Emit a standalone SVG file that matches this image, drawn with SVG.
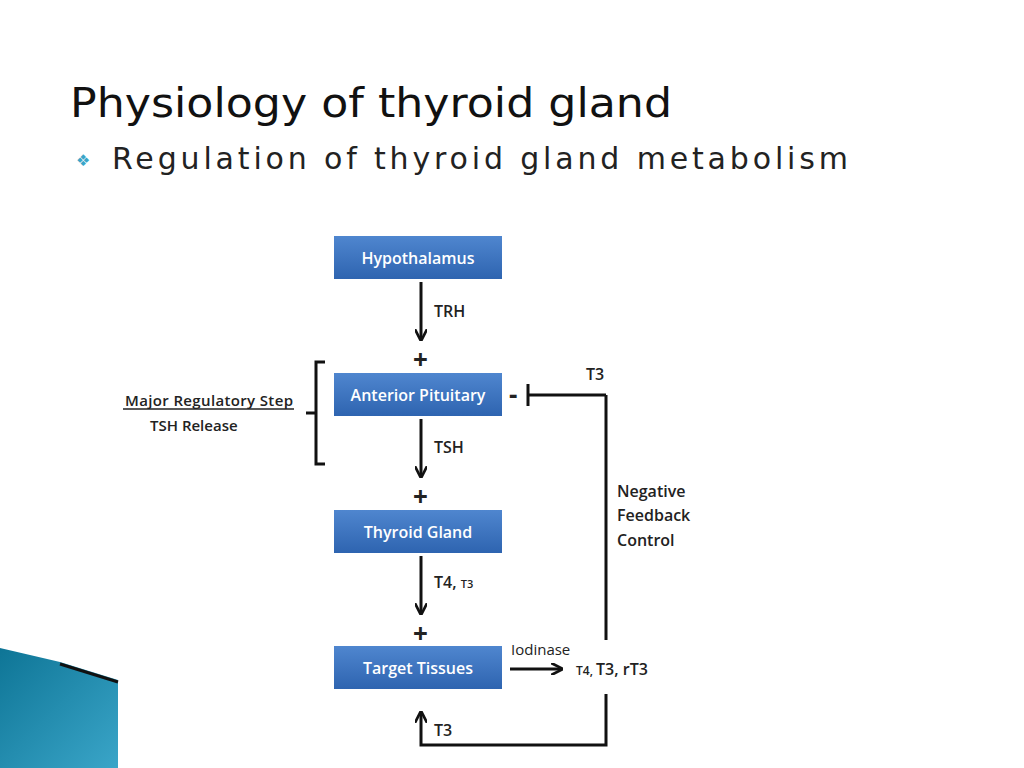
<svg xmlns="http://www.w3.org/2000/svg" width="1024" height="768" viewBox="0 0 1024 768">
<defs>
<linearGradient id="bx" x1="0" y1="0" x2="0" y2="1"><stop offset="0" stop-color="#4f86cf"/><stop offset="1" stop-color="#2e64b0"/></linearGradient>
<linearGradient id="corner" x1="0" y1="0" x2="1" y2="1"><stop offset="0" stop-color="#0e7596"/><stop offset="1" stop-color="#3aa5c8"/></linearGradient>
<marker id="ah" viewBox="0 0 10 10" refX="9" refY="5" markerWidth="4" markerHeight="4" orient="auto"><path d="M0,0 L10,5 L0,10" fill="none" stroke="#111" stroke-width="2.2"/></marker>
</defs>
<style>
.box{fill:url(#bx)}
.bt{font-family:"Open Sans","Liberation Sans",sans-serif;font-size:16px;fill:#fff;font-weight:600;text-anchor:middle}
.lb{font-family:"Open Sans","Liberation Sans",sans-serif;font-size:16px;fill:#222;font-weight:600}
.big{font-size:26px;font-weight:700}
.ln{stroke:#111;stroke-width:3;fill:none}
</style>
<rect width="1024" height="768" fill="#fff"/>
<path d="M0,648 L60,662 L118,680 L118,768 L0,768 Z" fill="url(#corner)"/>
<path d="M60,664 L118,682" stroke="#111" stroke-width="3"/>
<text x="70" y="117" font-family="DejaVu Sans, sans-serif" font-size="40" fill="#111" textLength="602" lengthAdjust="spacingAndGlyphs">Physiology of thyroid gland</text>
<text x="76" y="166" font-family="DejaVu Sans, sans-serif" font-size="16" fill="#3aa5c8">❖</text>
<text x="112" y="169" font-family="DejaVu Sans, sans-serif" font-size="30" fill="#222" textLength="736">Regulation of thyroid gland metabolism</text>
<g id="hypothalamus"><rect class="box" x="334" y="236" width="168" height="43"/><text class="bt" x="418" y="264">Hypothalamus</text></g>
<g id="pituitary"><rect class="box" x="334" y="373" width="168" height="43"/><text class="bt" x="418" y="401">Anterior Pituitary</text></g>
<g id="thyroid"><rect class="box" x="334" y="510" width="168" height="43"/><text class="bt" x="418" y="538">Thyroid Gland</text></g>
<g id="target"><rect class="box" x="334" y="646" width="168" height="43"/><text class="bt" x="418" y="674">Target Tissues</text></g>
<g id="connectors">
<path class="ln" d="M421,282 V340" marker-end="url(#ah)"/>
<path class="ln" d="M421,419 V477" marker-end="url(#ah)"/>
<path class="ln" d="M421,556 V614" marker-end="url(#ah)"/>
<path class="ln" d="M510,669 H562" marker-end="url(#ah)"/>
<path class="ln" d="M606,395 V640 M606,694 V745 H421 V712" marker-end="url(#ah)"/>
<path class="ln" d="M606,395 H528 M528,384 V406"/>
<path class="ln" d="M325,362 H316 V464 H325 M316,413 H306"/>
<path d="M123,409 H294" stroke="#222" stroke-width="1.5"/>
</g>
<text class="lb" x="434" y="317">TRH</text>
<text class="lb" x="434" y="453">TSH</text>
<text class="lb" x="434" y="588">T4, <tspan style="font-size:11px">T3</tspan></text>
<text class="lb" x="434" y="736">T3</text>
<text class="lb big" x="413" y="369">+</text>
<text class="lb big" x="413" y="506">+</text>
<text class="lb big" x="413" y="643">+</text>
<text class="lb big" x="509" y="404">-</text>
<text class="lb" x="586" y="380">T3</text>
<text class="lb" x="617" y="497">Negative</text>
<text class="lb" x="617" y="521">Feedback</text>
<text class="lb" x="617" y="546">Control</text>
<text class="lb" x="511" y="655" style="font-weight:400;font-size:15px">Iodinase</text>
<text class="lb" x="576" y="675"><tspan style="font-size:12px">T4, </tspan>T3, rT3</text>
<text class="lb" x="125" y="406" style="font-size:15px" textLength="168">Major Regulatory Step</text>
<text class="lb" x="150" y="431" style="font-size:15px">TSH Release</text>
</svg>
